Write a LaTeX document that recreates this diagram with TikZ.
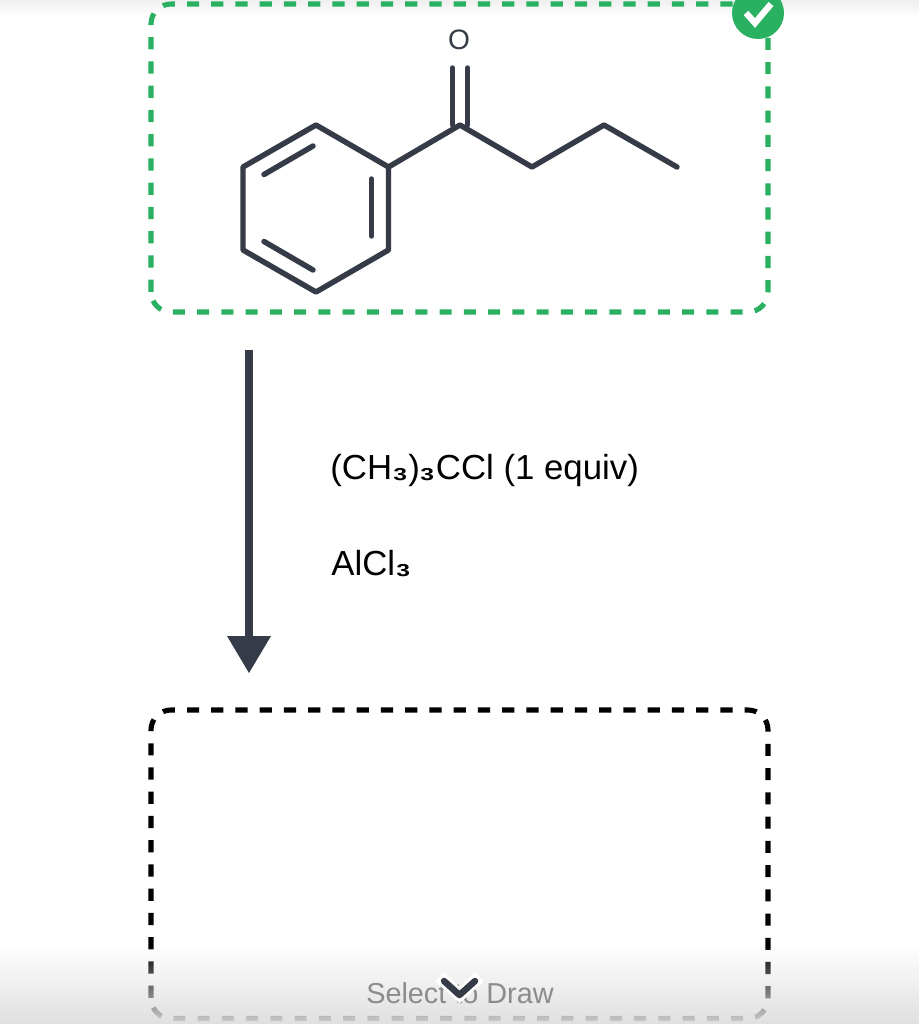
\documentclass[tikz,border=0pt]{standalone}
\usepackage{fontspec}
\setmainfont{Liberation Sans}
\usetikzlibrary{fadings,positioning}
\definecolor{bondcolor}{HTML}{363C47}
\definecolor{okgreen}{HTML}{29B061}
\tikzfading[name=fadebottom,top color=transparent!100,bottom color=transparent!6]
\tikzfading[name=fadetop,top color=transparent!0,bottom color=transparent!100]
\tikzset{
	bond/.style={line width=3.1pt,color=bondcolor,line cap=round,line join=round},
	dashrun/.style={line width=2.9pt,rounded corners=0.4cm,dash pattern=on 6.9pt off 6.9pt},
	reagent/.style={anchor=base west,inner sep=0pt,font=\fontsize{19.8pt}{24pt}\selectfont,color=black}
}
\begin{document}
\begin{tikzpicture}[line cap=butt,line join=round,>=latex,x=0.02cm,y=-0.02cm]
	\useasboundingbox (0,0) rectangle (920,1024);
	\fill [white] (0,0) rectangle (920,1024);
	\fill [black!6,path fading=fadetop] (0,0) rectangle (920,16);
	\draw [dashrun,color=okgreen] (187,4)--(768,4)--(768,312)--(151,312)--(151,292);
	\draw [dashrun,color=okgreen,dash phase=6.9pt] (187,4)--(151,4)--(151,292);
	\draw [dashrun,color=black] (187,710)--(768,710)--(768,1018.5)--(151,1018.5)--(151,998.5);
	\draw [dashrun,color=black,dash phase=6.9pt] (187,710)--(151,710)--(151,998.5);
	\fill [black!13,path fading=fadebottom] (0,945) rectangle (920,1024);
	\coordinate (r1) at (316,125);
	\coordinate (r2) at (388.5,167);
	\coordinate (r3) at (388.5,250);
	\coordinate (r4) at (316,292);
	\coordinate (r5) at (243,250);
	\coordinate (r6) at (243,167);
	\coordinate (co) at (460,125);
	\coordinate (c2) at (532,167);
	\coordinate (c3) at (604,125);
	\coordinate (c4) at (677,167);
	\draw [bond] (r1)--(r2)--(r3)--(r4)--(r5)--(r6)--cycle;
	\draw [bond] (r2)--(co)--(c2)--(c3)--(c4);
	\draw [bond] (371.5,179)--(371.5,236);
	\draw [bond] (313,146)--(264,174.5);
	\draw [bond] (264,241.5)--(313,270);
	\draw [bond] (452.5,125)--(452.5,68);
	\draw [bond] (467.5,125)--(467.5,68);
	\node [color=bondcolor,inner sep=0pt,font=\fontsize{16pt}{18pt}\selectfont] (oxygen) at (459,40) {O};
	\coordinate (arrowtop) at (249,350);
	\coordinate (arrowtip) at (249,673);
	\coordinate (arrowbase) at (249,636);
	\draw [line width=4pt,color=bondcolor] (arrowtop)--(arrowbase);
	\fill [color=bondcolor] (227,636)--(271,636)--(arrowtip)--cycle;
	\node [reagent] (reagentone) at (330,479) {(CH\textbf{₃})\textbf{₃}CCl (1 equiv)};
	\node [reagent] (reagenttwo) at (331,575) {AlCl\textbf{₃}};
	\fill [okgreen] (758,13) circle (26);
	\draw [white,line width=3.6pt,line cap=butt,line join=miter] (746,13)--(755,23)--(771,4);
	\node [anchor=base,inner sep=0pt,color=black!45,font=\fontsize{16.4pt}{20pt}\selectfont] (selecttext) at (460,1003) {Select to Draw};
	\draw [white,line width=7pt,line cap=rect,line join=miter] (444,981)--(459.5,995)--(475,981);
	\draw [bond,line width=3.7pt] (444,981)--(459.5,995)--(475,981);
\end{tikzpicture}
\end{document}
